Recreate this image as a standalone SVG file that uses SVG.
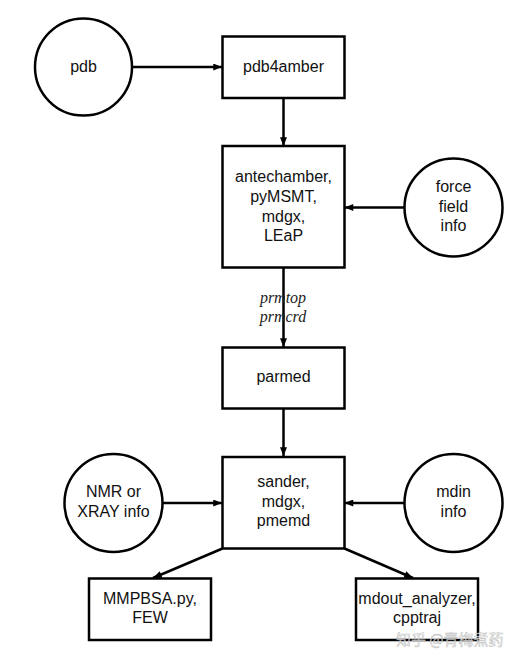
<svg xmlns="http://www.w3.org/2000/svg" width="521" height="659" viewBox="0 0 521 659">
<defs>
<marker id="ah" viewBox="0 0 10 8" refX="10" refY="4" markerWidth="10" markerHeight="7" markerUnits="userSpaceOnUse" orient="auto">
<path d="M0,0 L10,4 L0,8 Z" fill="#000"/>
</marker>
<style>
.n{fill:#fff;stroke:#000;stroke-width:2.5}
.t{font-family:"Liberation Sans",Arial,sans-serif;font-size:16px;fill:#111;text-anchor:middle}
.i{font-family:"Liberation Serif","Times New Roman",serif;font-style:italic;font-size:16px;fill:#222;text-anchor:middle}
.c{stroke:#000;stroke-width:2.5;fill:none;marker-end:url(#ah)}
</style>
</defs>
<rect width="521" height="659" fill="#fff"/>
<g id="connectors">
<line class="c" x1="132" y1="67" x2="222" y2="67"/>
<line class="c" x1="283.5" y1="98" x2="283.5" y2="146"/>
<line class="c" x1="404" y1="207.5" x2="344.5" y2="207.5"/>
<line class="c" x1="283.5" y1="268" x2="283.5" y2="347"/>
<line class="c" x1="283.5" y1="408" x2="283.5" y2="456"/>
<line class="c" x1="162" y1="503" x2="222" y2="503"/>
<line class="c" x1="404" y1="503" x2="344.5" y2="503"/>
<line class="c" x1="222.5" y1="548.5" x2="153" y2="578"/>
<line class="c" x1="344.5" y1="548.5" x2="413" y2="578"/>
</g>
<g id="edge-label">
<text class="i" x="283" y="303">prmtop</text>
<text class="i" x="283" y="322">prmcrd</text>
</g>
<g id="pdb">
<circle class="n" cx="83.5" cy="67" r="48.5"/>
<text class="t" x="83.5" y="72">pdb</text>
</g>
<g id="pdb4amber">
<rect class="n" x="222.5" y="36.5" width="122" height="61.5"/>
<text class="t" x="283.5" y="72">pdb4amber</text>
</g>
<g id="antechamber">
<rect class="n" x="222.5" y="146" width="122" height="121.5"/>
<text class="t" x="283.5" y="182">antechamber,</text>
<text class="t" x="283.5" y="202">pyMSMT,</text>
<text class="t" x="283.5" y="221.5">mdgx,</text>
<text class="t" x="283.5" y="241">LEaP</text>
</g>
<g id="forcefield">
<circle class="n" cx="453.5" cy="207.5" r="49"/>
<text class="t" x="453.5" y="192">force</text>
<text class="t" x="453.5" y="211.5">field</text>
<text class="t" x="453.5" y="231">info</text>
</g>
<g id="parmed">
<rect class="n" x="222.5" y="347.5" width="122" height="61"/>
<text class="t" x="283.5" y="382">parmed</text>
</g>
<g id="sander">
<rect class="n" x="222.5" y="457" width="122" height="91.5"/>
<text class="t" x="283.5" y="487">sander,</text>
<text class="t" x="283.5" y="506.5">mdgx,</text>
<text class="t" x="283.5" y="525.5">pmemd</text>
</g>
<g id="nmr">
<circle class="n" cx="113.5" cy="503" r="49"/>
<text class="t" x="113.5" y="497">NMR or</text>
<text class="t" x="113.5" y="516.5">XRAY info</text>
</g>
<g id="mdin">
<circle class="n" cx="453.5" cy="503" r="49"/>
<text class="t" x="453.5" y="497">mdin</text>
<text class="t" x="453.5" y="516.5">info</text>
</g>
<g id="mmpbsa">
<rect class="n" x="89" y="578.5" width="122" height="61.5"/>
<text class="t" x="150" y="603.5">MMPBSA.py,</text>
<text class="t" x="150" y="623">FEW</text>
</g>
<g id="mdout">
<rect class="n" x="356" y="578.5" width="122" height="61.5"/>
<text class="t" x="417" y="603.5">mdout_analyzer,</text>
<text class="t" x="417" y="623">cpptraj</text>
</g>
<g id="watermark">
<text x="396" y="645" font-family="'Noto Sans CJK SC',sans-serif" font-size="15" fill="#fff" fill-opacity="0.75" stroke="#999" stroke-width="0.6" stroke-opacity="0.6">知乎 @青梅煮药</text>
</g>
</svg>
